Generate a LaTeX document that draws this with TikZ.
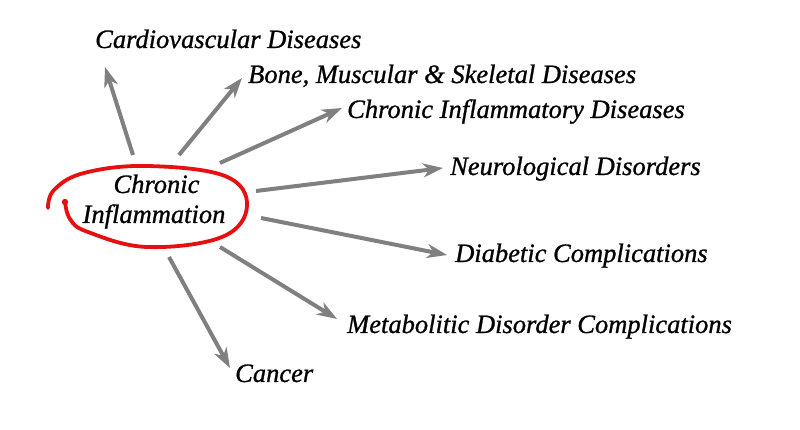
\documentclass[tikz,border=0pt]{standalone}
\usepackage{fontspec}
\setmainfont{Liberation Serif}
\newfontfamily\lblfont{Liberation Serif Italic}[RawFeature={embolden=0.9}]
\usetikzlibrary{arrows.meta,shapes.geometric}
\definecolor{arrowgray}{RGB}{128,128,128}
\definecolor{ringred}{RGB}{230,16,16}
\begin{document}
\begin{tikzpicture}[x=1pt,y=1pt,
  lbl/.style={anchor=base west,inner sep=0pt,font=\lblfont\fontsize{26.5}{30}\selectfont},
  ctr/.style={anchor=base,inner sep=0pt,font=\lblfont\fontsize{26.5}{30}\selectfont},
  arr/.style={draw=arrowgray,line width=4pt,-{Stealth[length=20pt,width=14pt,inset=6pt]}}]
\useasboundingbox[fill=white] (0,0) rectangle (800,430);
% centre
\node[draw=none,minimum width=200pt,minimum height=80pt,ellipse] (ci) at (147,224) {};
\node[ctr] (c1) at (156.5,237) {Chronic};
\node[ctr] (c2) at (154,207) {Inflammation};
\draw[ringred,line width=3.8pt,line cap=round]
  plot[smooth,tension=0.65] coordinates {(65,229) (70,211) (88,198) (147,183) (222,193) (247,224) (225,254) (147,264) (84,257) (54,240) (48,222)};
\fill[ringred] (65,228) circle (3.2pt);
% labels
\node[lbl] (l1) at (95,382) {Cardiovascular Diseases};
\node[lbl] (l2) at (248,347) {Bone, Muscular \& Skeletal Diseases};
\node[lbl] (l3) at (347,312) {Chronic Inflammatory Diseases};
\node[lbl] (l4) at (450,255) {Neurological Disorders};
\node[lbl] (l5) at (455,168) {Diabetic Complications};
\node[lbl] (l6) at (347,97) {Metabolitic Disorder Complications};
\node[lbl] (l7) at (235,48) {Cancer};
% arrow coordinates
\coordinate (t1) at (133,275); \coordinate (h1) at (105,363);
\coordinate (t2) at (179,275); \coordinate (h2) at (242,352);
\coordinate (t3) at (220,267); \coordinate (h3) at (342,322);
\coordinate (t4) at (256,239); \coordinate (h4) at (443,262);
\coordinate (t5) at (261,212); \coordinate (h5) at (447,175);
\coordinate (t6) at (220,183); \coordinate (h6) at (337,111);
\coordinate (t7) at (169,173); \coordinate (h7) at (230,62);
\foreach \i in {1,...,7} {\draw[arr] (t\i) -- (h\i);}
\end{tikzpicture}
\end{document}
